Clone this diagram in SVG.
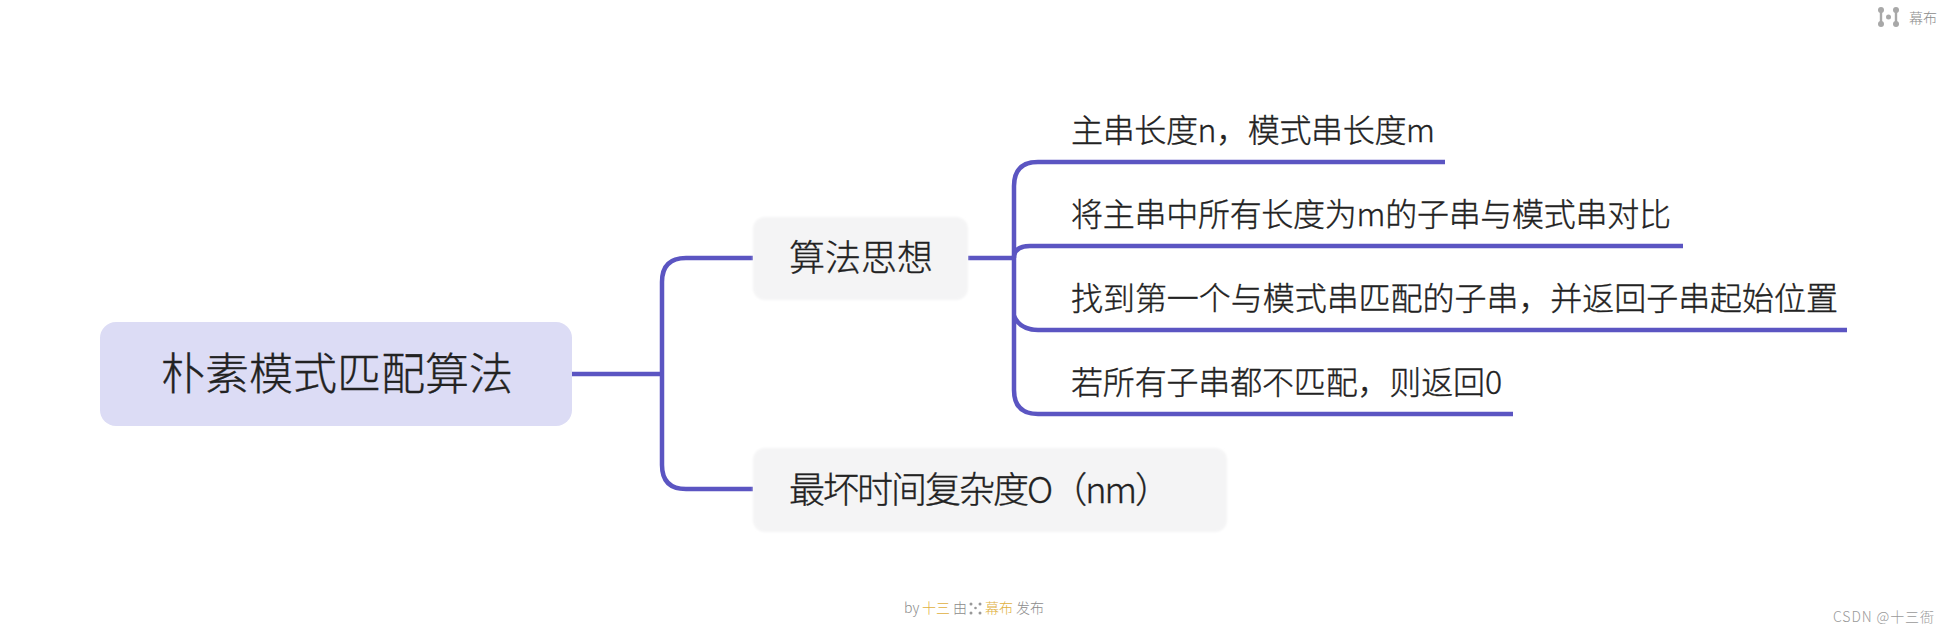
<svg xmlns="http://www.w3.org/2000/svg" width="1948" height="632" viewBox="0 0 1948 632">
<style>
text{font-family:"Noto Sans CJK SC","Liberation Sans",sans-serif;fill:#222;font-weight:300}
.b{stroke:#222;stroke-width:.35}
.c{fill:none;stroke:#5b55c2;stroke-width:4.5}
.n{fill:#f4f4f5;filter:url(#s)}
.l{font-size:32px}
.m{font-size:36px}
.g{fill:#8c8c8c;font-size:14px}
.y{fill:#e0b040;font-size:14px}
.w{fill:none;stroke:#a8a8a8;stroke-width:2.4}
</style>
<defs><filter id="s" x="-5%" y="-10%" width="110%" height="120%"><feGaussianBlur stdDeviation="1.2"/></filter></defs>
<rect width="1948" height="632" fill="#fff"/>
<g id="connectors">
<path class="c" d="M572 374H662"/>
<path class="c" d="M753 258H686Q662 258 662 282V465Q662 489 686 489H753"/>
<path class="c" d="M968 258H1014"/>
<path class="c" d="M1445 162H1038Q1014 162 1014 186V390Q1014 414 1038 414H1513"/>
<path class="c" d="M1683 246H1030Q1014 246 1014 258"/>
<path class="c" d="M1847 330H1038Q1020 330 1014 316"/>
</g>
<g id="root"><rect x="100" y="322" width="472" height="104" rx="16" fill="#dcdcf5"/><text class="b" x="161" y="390" font-size="44">朴素模式匹配算法</text></g>
<g id="n1"><rect class="n" x="753" y="217" width="215" height="83" rx="12"/><text class="m b" x="789" y="271">算法思想</text></g>
<g id="n2"><rect class="n" x="753" y="448" width="474" height="84" rx="12"/><text class="m b" x="789" y="503" textLength="382">最坏时间复杂度O（nm）</text></g>
<g id="l1"><text class="l b" x="1071" y="142" textLength="364">主串长度n，模式串长度m</text></g>
<g id="l2"><text class="l b" x="1071" y="226" textLength="600">将主串中所有长度为m的子串与模式串对比</text></g>
<g id="l3"><text class="l b" x="1071" y="310" textLength="767">找到第一个与模式串匹配的子串，并返回子串起始位置</text></g>
<g id="l4"><text class="l b" x="1071" y="394" textLength="431">若所有子串都不匹配，则返回0</text></g>
<g id="wm1"><path class="w" d="M1881 10V24M1896 10V24"/><g fill="#a8a8a8"><circle cx="1881" cy="10" r="3"/><circle cx="1881" cy="24" r="3"/><circle cx="1888.500" cy="17" r="2.500"/><circle cx="1896" cy="10" r="3"/><circle cx="1896" cy="24" r="3"/></g><text class="g" x="1909" y="23">幕布</text></g>
<g id="wm2"><text class="g" x="904" y="613">by</text><text class="y" x="922" y="613">十三</text><text class="g" x="953" y="613">由</text><g fill="#999"><circle cx="971" cy="604" r="1.500"/><circle cx="971" cy="613" r="1.500"/><circle cx="975.500" cy="608" r="1.300"/><circle cx="980" cy="604" r="1.500"/><circle cx="980" cy="613" r="1.500"/></g><text class="y" x="985" y="613">幕布</text><text class="g" x="1016" y="613">发布</text></g>
<g id="wm3"><text x="1833" y="622" style="fill:#9a9a9a;font-size:14px" textLength="101">CSDN @十三衙</text></g>
</svg>
